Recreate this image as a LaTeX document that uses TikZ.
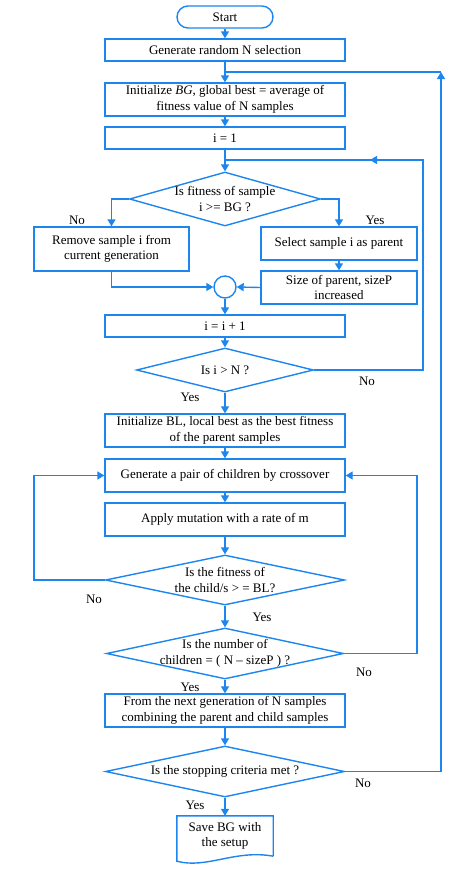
\documentclass[tikz,border=0pt]{standalone}
\usepackage{fontspec}
\setmainfont{Liberation Serif}
\usetikzlibrary{shapes.geometric,arrows.meta}
\definecolor{flowblue}{RGB}{28,134,238}
\tikzset{
  flow/.style={
    x=1pt, y=-1pt,
    every node/.style={font=\fontsize{13}{15.5}\selectfont, align=center, inner sep=0pt},
    box/.style={
        draw=flowblue,
        line width=1.4pt,
        shape=rectangle,
        minimum width=240pt,
        minimum height=33pt,
    },
    thin box/.style={box, minimum height=22pt},
    side box/.style={box, minimum width=156pt},
    terminal/.style={box, minimum width=96pt, minimum height=22pt, rounded corners=11pt},
    decision/.style n args={3}{
        draw=flowblue,
        line width=1.4pt,
        shape=diamond,
        inner sep=-4pt,
        minimum width=##1pt,
        minimum height=##2pt,
        aspect=##3,
    },
    junction/.style={draw=flowblue, line width=1.4pt, circle, minimum size=22pt},
    line/.style={draw=flowblue, line width=1.4pt},
    arrowline/.style={line, -{Triangle[width=8pt,length=7pt]}},
    lbl/.style={font=\fontsize{13}{15.5}\selectfont}
  }
}

\begin{document}
\begin{tikzpicture}[flow]
    \useasboundingbox (0,0) rectangle (474,871);

    % main column
    \node[terminal] (start) at (225,17) {Start};
    \node[thin box] (gen) at (225,50) {Generate random N selection};
    \node[box] (initbg) at (225,99.5) {Initialize \textit{BG}, global best = average of\\ fitness value of N samples};
    \node[thin box] (ione) at (225,138) {i = 1};
    \node[decision={191}{54}{3.54}] (fit) at (225,199) {Is fitness of sample\\ i >= BG ?};
    \node[box, minimum width=155pt, minimum height=44pt] (remove) at (111.5,249) {Remove sample i from\\ current generation};
    \node[side box] (select) at (339,243.5) {Select sample i as parent};
    \node[side box] (sizep) at (339,287.5) {Size of parent, sizeP\\ increased};
    \node[junction] (join) at (225,287) {};
    \node[thin box] (inc) at (225,326) {i = i + 1};
    \node[decision={177}{44}{4.02}] (cond2) at (225,370) {Is i > N ?};
    \node[box] (initbl) at (225,430.5) {Initialize BL, local best as the best fitness\\ of the parent samples};
    \node[box] (pair) at (225,475.5) {Generate a pair of children by crossover};
    \node[box] (mutate) at (225,519.5) {Apply mutation with a rate of m};
    \node[decision={239}{50}{4.78}] (cond3) at (225,580) {Is the fitness of\\ the child/s > = BL?};
    \node[decision={237}{51}{4.65}] (cond4) at (225,653.5) {Is the number of\\ children = ( N -- sizeP ) ?};
    \node[box] (nextgen) at (225,710.5) {From the next generation of N samples\\ combining the parent and child samples};
    \node[decision={239}{51}{4.69}] (stop) at (225,771.5) {Is the stopping criteria met ?};
    \node[minimum width=96pt, minimum height=40pt] (save) at (225,836) {Save BG with\\ the setup};
    \draw[line] (save.south east) -- (save.north east) -- (save.north west)
        -- ([yshift=-5pt]save.south west)
        .. controls ([xshift=30pt,yshift=-13pt]save.south west) and ([xshift=-38pt,yshift=7pt]save.south east) .. (save.south east);

    % loop corners
    \coordinate (outer) at (441,72);
    \coordinate (inner) at (423,160);
    \coordinate (leftloop) at (34,580);
    \coordinate (rightloop) at (417,653.5);

    % connectors
    \draw[arrowline] (start) -- (gen);
    \draw[arrowline] (gen) -- (initbg);
    \draw[arrowline] (initbg) -- (ione);
    \draw[arrowline] (ione) -- (fit);
    \draw[arrowline] (fit.west) -| (remove.north);
    \draw[arrowline] (fit.east) -| (select.north);
    \draw[arrowline] (select) -- (sizep);
    \draw[arrowline] (remove.south) |- (join.west);
    \draw[arrowline] (sizep.west) -- (join.east);
    \draw[arrowline] (join) -- (inc);
    \draw[arrowline] (inc) -- (cond2);
    \draw[line] (cond2.east) -| (inner) -- (inner -| fit.north);
    \draw[arrowline] (inner) -- ++(-53,0);
    \draw[arrowline] (cond2) -- (initbl);
    \draw[arrowline] (initbl) -- (pair);
    \draw[arrowline] (pair) -- (mutate);
    \draw[arrowline] (mutate) -- (cond3);
    \draw[arrowline] (cond3.west) -- (leftloop) |- (pair.west);
    \draw[arrowline] (cond3) -- (cond4);
    \draw[arrowline] (cond4.east) -- (rightloop) |- (pair.east);
    \draw[arrowline] (cond4) -- (nextgen);
    \draw[arrowline] (nextgen) -- (stop);
    \draw[arrowline] (stop.east) -| (outer);
    \draw[line] (outer) -- (outer -| gen.south);
    \draw[arrowline] (stop) -- (save);

    % branch labels
    \node[lbl] (no1) at (77,220) {No};
    \node[lbl] (yes1) at (375,220) {Yes};
    \node[lbl] (no2) at (367,381) {No};
    \node[lbl] (yes2) at (190,397) {Yes};
    \node[lbl] (no3) at (94,599) {No};
    \node[lbl] (yes3) at (262,617) {Yes};
    \node[lbl] (no4) at (364,672) {No};
    \node[lbl] (yes4) at (190,687) {Yes};
    \node[lbl] (no5) at (363,783) {No};
    \node[lbl] (yes5) at (195,805) {Yes};
\end{tikzpicture}
\end{document}
